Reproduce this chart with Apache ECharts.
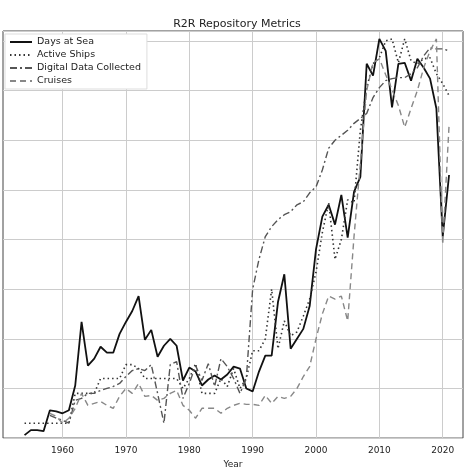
<!DOCTYPE html><html><head><meta charset="utf-8">
<script src="https://cdn.jsdelivr.net/npm/echarts@6/dist/echarts.min.js"></script>
<style>html,body{margin:0;background:#fff}#c{width:474px;height:474px}</style></head><body><div id="c"></div>
<script>
const years=[];for(let y=1954;y<=2021;y++)years.push(y);
const daysAtSea=[3,8,8,7,28,27,25,28,53,117,73,80,92,86,86,105,117,128,143,99,109,82,93,100,93,58,71,67,53,59,63,59,64,72,70,50,47,67,83,83,137,165,90,100,110,133,190,223,235,215,245,202,248,263,377,365,402,390,333,377,378,360,382,373,362,332,203,265];
const activeShips=[15,15,15,15,15,15,15,15,45,45,45,45,60,60,60,60,74,74,70,60,60,60,60,60,60,50,60,75,45,45,45,60,52,70,50,60,88,88,100,150,90,118,103,107,123,140,167,207,237,180,200,240,237,310,353,377,383,400,402,378,402,380,377,382,383,367,357,345];
const digitalData=[null,null,null,null,23,20,18,15,38,40,45,45,48,50,52,55,62,68,70,68,74,45,15,74,77,40,55,73,58,75,52,80,72,60,45,60,150,180,203,213,220,225,228,235,238,247,253,270,292,300,305,310,317,322,327,343,353,360,362,363,363,367,373,385,393,392,392,390];
const cruises=[null,null,null,null,25,22,15,20,30,45,33,35,37,33,30,42,50,45,55,42,43,38,40,45,48,33,28,20,30,30,30,25,30,33,35,34,34,33,43,35,42,40,42,50,62,72,100,125,143,140,143,118,203,277,350,378,382,366,351,335,313,332,350,373,390,402,195,315];
const xTicks=[1960,1970,1980,1990,2000,2010,2020];
const mk=(name,data,color,type,w)=>({name,type:'line',data:years.map((y,i)=>[y,data[i]]),symbol:'none',showSymbol:false,connectNulls:false,lineStyle:{color,type,width:w},itemStyle:{color}});
const ch=echarts.init(document.getElementById('c'));
ch.setOption({animation:false,backgroundColor:'#fff',
title:{text:'R2R Repository Metrics',left:'center',top:14,textStyle:{fontSize:11,fontWeight:'normal',color:'#222',fontFamily:'DejaVu Sans'}},
grid:{left:3,right:11,top:31,bottom:34,show:true,borderColor:'#444',borderWidth:1},
legend:{orient:'vertical',left:5,top:34,itemWidth:22,itemHeight:8,itemGap:3,itemStyle:{opacity:0},backgroundColor:'#fff',borderColor:'#ddd',borderWidth:1,padding:[3,6,3,4],textStyle:{fontSize:9.5,color:'#222',fontFamily:'DejaVu Sans'},data:['Days at Sea','Active Ships','Digital Data Collected','Cruises']},
xAxis:{type:'value',min:1950.6,max:2023.2,name:'Year',nameLocation:'middle',nameGap:20,nameTextStyle:{fontSize:9,color:'#222',fontFamily:'DejaVu Sans'},
 axisLine:{show:false},axisTick:{show:false,customValues:xTicks},
 axisLabel:{fontSize:9,color:'#222',fontFamily:'DejaVu Sans',customValues:xTicks,formatter:v=>String(v)},
 splitLine:{show:true,lineStyle:{color:'#ccc'}}},
yAxis:{type:'value',min:0,max:410,interval:50,axisLabel:{show:false},axisLine:{show:false},axisTick:{show:false},splitLine:{lineStyle:{color:'#ccc'}}},
series:[mk('Days at Sea',daysAtSea,'#111','solid',1.8),mk('Active Ships',activeShips,'#333',[1.5,3],1.6),mk('Digital Data Collected',digitalData,'#555',[7,3,2,3],1.4),mk('Cruises',cruises,'#888',[6,4],1.4)]
});
</script></body></html>
